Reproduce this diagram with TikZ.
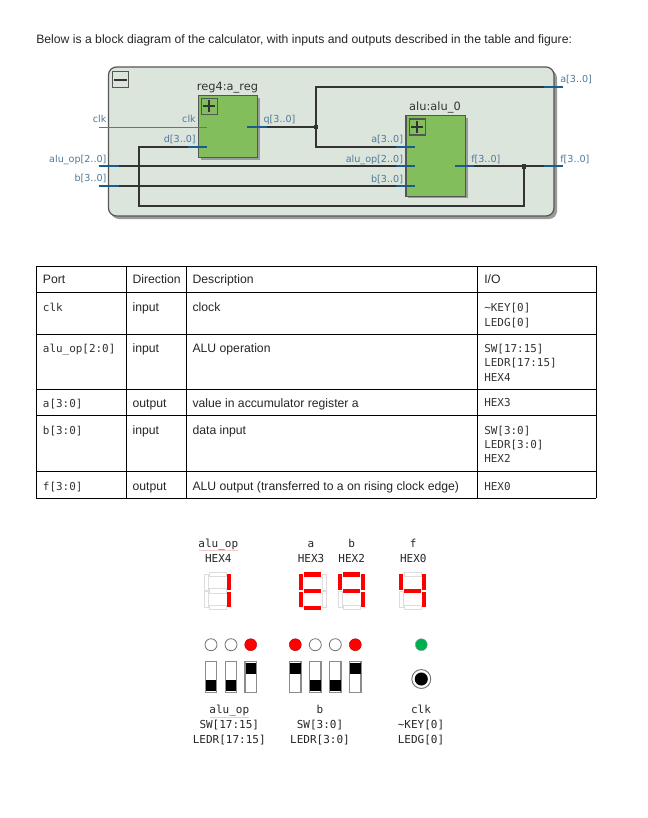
\documentclass[tikz,border=0pt]{standalone}
\usepackage{fontspec}
\setmainfont{Liberation Sans}
\newfontfamily\monof{DejaVu Sans Mono}
\newfontfamily\diagf{DejaVu Sans}
\definecolor{panelfill}{HTML}{DCE5DC}
\definecolor{edgecol}{HTML}{555555}
\definecolor{shadowcol}{HTML}{9A9A9A}
\definecolor{blockfill}{HTML}{82BE5C}
\definecolor{wirecol}{HTML}{333333}
\definecolor{pincol}{HTML}{1C5C8C}
\definecolor{lblcol}{HTML}{4F7A9B}
\definecolor{segoff}{HTML}{DDDDDD}
\definecolor{ledgreen}{HTML}{00B050}
\definecolor{spell}{HTML}{F3CACA}
\tikzset{
  x=0.75pt,y=-0.75pt,
  txt/.style={inner sep=0pt,anchor=base west,font=\fontsize{9.15}{11}\selectfont,text=black!85},
  mono/.style={inner sep=0pt,anchor=base west,font=\monof\fontsize{8.2}{10}\selectfont,text=black!80},
  monoc/.style={inner sep=0pt,anchor=base,font=\monof\fontsize{8.25}{10}\selectfont,text=black!85},
  pinl/.style={inner sep=0pt,anchor=base east,font=\diagf\fontsize{7.2}{9}\selectfont,text=lblcol},
  pinr/.style={inner sep=0pt,anchor=base west,font=\diagf\fontsize{7.2}{9}\selectfont,text=lblcol},
  blocklbl/.style={inner sep=0pt,anchor=base,font=\diagf\fontsize{8.55}{10}\selectfont,text=black!80},
  blockbox/.style={draw=edgecol,line width=1pt,fill=blockfill,inner sep=0pt,anchor=north west},
  tbox/.style={draw=edgecol,line width=0.9pt,inner sep=0pt,anchor=north west,minimum width=12pt,minimum height=12pt},
  wire/.style={draw=wirecol,line width=1.4pt},
  pinwire/.style={draw=pincol,line width=1.5pt},
  clkwire/.style={draw=lblcol,line width=0.7pt},
  junct/.style={fill=wirecol,inner sep=0pt,minimum size=3.6pt,rectangle},
  tline/.style={draw=black,line width=0.75pt},
  segon/.style={fill=red,draw=none},
  segout/.style={fill=white,draw=segoff,line width=0.7pt},
  ledoff/.style={circle,draw=black!55,fill=white,line width=0.6pt,minimum size=9pt,inner sep=0pt},
  ledred/.style={circle,fill=red,draw=red!70!black,line width=0.3pt,minimum size=9pt,inner sep=0pt},
  ledgrn/.style={circle,fill=ledgreen,draw=black!40,line width=0.3pt,minimum size=9pt,inner sep=0pt},
  swbody/.style={draw=black!45,line width=1pt,fill=white},
}
% digit: #1 left x, then style for segments top, upper-left, upper-right, mid, lower-left, lower-right, bottom
\newcommand{\sevenseg}[8]{%
  \path[#2] (#1+5,572) rectangle (#1+22,576.5);
  \path[#3] (#1,574.3) rectangle (#1+4,590);
  \path[#4] (#1+22.7,574.3) rectangle (#1+26.7,590);
  \path[#5] (#1+5,588.7) rectangle (#1+22,593);
  \path[#6] (#1,591.7) rectangle (#1+4,607.3);
  \path[#7] (#1+22.7,591.7) rectangle (#1+26.7,607.3);
  \path[#8] (#1+5,605.5) rectangle (#1+22,609.7);
}
\newcommand{\swup}[1]{%
  \path[swbody] (#1-5.8,661.3) rectangle (#1+5.8,692.7);
  \fill[black] (#1-5.2,663) rectangle (#1+5.2,674);
}
\newcommand{\swdown}[1]{%
  \path[swbody] (#1-5.8,661.3) rectangle (#1+5.8,692.7);
  \fill[black] (#1-5.2,680) rectangle (#1+5.2,690.8);
}
\newcommand{\plusbox}[3]{%
  \node[tbox] (#1) at (#2,#3) {};
  \draw[wirecol,line width=1.4pt] (#1.north) ++(0,-2pt) -- ([yshift=2pt]#1.south);
  \draw[wirecol,line width=1.4pt] ([xshift=2pt]#1.west) -- ([xshift=-2pt]#1.east);
}
\begin{document}
\begin{tikzpicture}
\useasboundingbox (0,0) rectangle (647,818);
\fill[white] (0,0) rectangle (647,818);

\node[txt] (title) at (36,43) {Below is a block diagram of the calculator, with inputs and outputs described in the table and figure:};

% ---------- panel
\fill[shadowcol,rounded corners=6pt] (111,70) rectangle (557,219);
\path[draw=edgecol,line width=0.9pt,fill=panelfill,rounded corners=6pt] (108.5,67) rectangle (554,216);
\node[tbox,fill=panelfill] (collapse) at (112,71) {};
\draw[wirecol,line width=1.5pt] ([xshift=1.5pt]collapse.west) -- ([xshift=-1.5pt]collapse.east);

% ---------- blocks
\fill[shadowcol] (200.5,97.5) rectangle (260,160);
\fill[shadowcol] (407.8,117.5) rectangle (467.5,198.2);
\node[blockbox,minimum width=44.25pt,minimum height=46.5pt] (reg) at (198,95) {};
\node[blockbox,minimum width=44.6pt,minimum height=60.5pt] (alu) at (405.3,115) {};
\plusbox{regplus}{200.7}{97.7}
\plusbox{aluplus}{408.7}{118.3}
\node[blocklbl] (regname) at (227.5,90.5) {reg4:a\_reg};
\node[blocklbl] (aluname) at (435,110) {alu:alu\_0};

% ---------- pins
\coordinate (clkin) at (98.7,127);
\coordinate (clkreg) at (207,127);
\coordinate (dreg) at (207,146.7);
\coordinate (dturn) at (139,146.7);
\coordinate (dlow) at (139,205.7);
\coordinate (fturnlow) at (524,205.7);
\coordinate (qreg) at (247.3,127);
\coordinate (qjunc) at (316,127);
\coordinate (atop) at (316,87.3);
\coordinate (aout) at (563,87.3);
\coordinate (aalu) at (415,146.7);
\coordinate (aturn) at (316,146.7);
\coordinate (opin) at (98.7,166.3);
\coordinate (opalu) at (415,166.3);
\coordinate (bin) at (98.7,186.3);
\coordinate (balu) at (415,186.3);
\coordinate (falu) at (455,166.3);
\coordinate (fjunc) at (524,166.3);
\coordinate (fout) at (563,166.3);

% ---------- wires
\draw[clkwire] (clkin) -- (clkreg);
\draw[wire] (dreg) -- (dturn) -- (dlow) -- (fturnlow) -- (fjunc);
\draw[wire] (qreg) -- (qjunc);
\draw[wire] (aout) -- (atop) -- (aturn) -- (aalu);
\draw[wire] (opin) -- (opalu);
\draw[wire] (bin) -- (balu);
\draw[wire] (falu) -- (fout);
\node[junct] (j1) at (qjunc) {};
\node[junct] (j2) at (fjunc) {};
\draw[pinwire] (dreg) -- ++(-19.3,0);
\draw[pinwire] (qreg) -- ++(20,0);
\draw[pinwire] (aout) -- ++(-19,0);
\draw[pinwire] (aalu) -- ++(-19,0);
\draw[pinwire] (opin) -- ++(20,0);
\draw[pinwire] (opalu) -- ++(-19,0);
\draw[pinwire] (bin) -- ++(20,0);
\draw[pinwire] (balu) -- ++(-19,0);
\draw[pinwire] (falu) -- ++(19,0);
\draw[pinwire] (fout) -- ++(-19,0);

% ---------- pin labels
\node[pinl] (lclk) at (106.7,122.3) {clk};
\node[pinl] (lop) at (106.7,162) {alu\_op[2..0]};
\node[pinl] (lb) at (106.7,181.7) {b[3..0]};
\node[pinl] (lrclk) at (196,122.3) {clk};
\node[pinl] (lrd) at (196,142.7) {d[3..0]};
\node[pinr] (lrq) at (263.3,122.3) {q[3..0]};
\node[pinl] (laa) at (403.3,142.7) {a[3..0]};
\node[pinl] (laop) at (403.3,162) {alu\_op[2..0]};
\node[pinl] (lab) at (403.3,182.3) {b[3..0]};
\node[pinr] (laf) at (471,162) {f[3..0]};
\node[pinr] (loa) at (560,82.7) {a[3..0]};
\node[pinr] (lof) at (560,162) {f[3..0]};

% ---------- table
\foreach \yy in {266.3,292.3,334.3,389,415.7,471.3,498.3}
  \draw[tline] (36.3,\yy) -- (596,\yy);
\foreach \xx in {36.3,126.7,186.3,477.7,596}
  \draw[tline] (\xx,266.3) -- (\xx,498.3);

\node[txt] (h1) at (42.7,283.5) {Port};
\node[txt] (h2) at (132.3,283.5) {Direction};
\node[txt] (h3) at (192.3,283.5) {Description};
\node[txt] (h4) at (484,283.5) {I/O};

\node[mono] (p1) at (42.7,311) {clk};
\node[txt] (d1) at (132.3,311) {input};
\node[txt] (e1) at (192.3,311) {clock};
\node[mono] (i1a) at (484,311.5) {\textasciitilde KEY[0]};
\node[mono] (i1b) at (484,326) {LEDG[0]};

\node[mono] (p2) at (42.7,352) {alu\_op[2:0]};
\node[txt] (d2) at (132.3,352) {input};
\node[txt] (e2) at (192.3,352) {ALU operation};
\node[mono] (i2a) at (484,352) {SW[17:15]};
\node[mono] (i2b) at (484,366.5) {LEDR[17:15]};
\node[mono] (i2c) at (484,381) {HEX4};

\node[mono] (p3) at (42.7,407) {a[3:0]};
\node[txt] (d3) at (132.3,407) {output};
\node[txt] (e3) at (192.3,407) {value in accumulator register a};
\node[mono] (i3) at (484,406.5) {HEX3};

\node[mono] (p4) at (42.7,434) {b[3:0]};
\node[txt] (d4) at (132.3,434) {input};
\node[txt] (e4) at (192.3,434) {data input};
\node[mono] (i4a) at (484,434) {SW[3:0]};
\node[mono] (i4b) at (484,448) {LEDR[3:0]};
\node[mono] (i4c) at (484,462.5) {HEX2};

\node[mono] (p5) at (42.7,490.5) {f[3:0]};
\node[txt] (d5) at (132.3,490.5) {output};
\node[txt] (e5) at (192.3,490.5) {ALU output (transferred to a on rising clock edge)};
\node[mono] (i5) at (484,490) {HEX0};

% ---------- top captions
\node[monoc] (c1a) at (218.3,547) {alu\_op};
\node[monoc] (c1b) at (218.3,562) {HEX4};
\node[monoc] (c2a) at (311,547) {a};
\node[monoc] (c2b) at (311,562) {HEX3};
\node[monoc] (c3a) at (351.7,547) {b};
\node[monoc] (c3b) at (351.7,562) {HEX2};
\node[monoc] (c4a) at (413.3,547) {f};
\node[monoc] (c4b) at (413.3,562) {HEX0};
\draw[spell,line width=0.5pt] (198.5,550.5) -- (238,550.5);

% ---------- seven segment displays
\sevenseg{204}{segout}{segout}{segon}{segout}{segout}{segon}{segout}
\sevenseg{299.3}{segon}{segon}{segout}{segon}{segon}{segout}{segon}
\sevenseg{338.3}{segon}{segon}{segon}{segon}{segout}{segon}{segout}
\sevenseg{399.3}{segout}{segon}{segon}{segon}{segout}{segon}{segout}

% ---------- LEDs
\node[ledoff] (led17) at (211,644.7) {};
\node[ledoff] (led16) at (231,644.7) {};
\node[ledred] (led15) at (250.7,644.7) {};
\node[ledred] (led3) at (295.3,644.7) {};
\node[ledoff] (led2) at (315.3,644.7) {};
\node[ledoff] (led1) at (335.3,644.7) {};
\node[ledred] (led0) at (355.3,644.7) {};
\node[ledgrn] (ledg) at (421.3,644.7) {};

% ---------- switches
\swdown{211}
\swdown{231}
\swup{250.7}
\swup{295.3}
\swdown{315.3}
\swdown{335.3}
\swup{355.3}

% ---------- push button
\node[circle,draw=black!55,fill=white,line width=0.7pt,minimum size=14.2pt,inner sep=0pt] (keyring) at (421.3,679) {};
\node[circle,fill=black,minimum size=9.8pt,inner sep=0pt] (keycap) at (421.3,679) {};

% ---------- bottom captions
\node[monoc] (s1a) at (229.3,713.5) {alu\_op};
\node[monoc] (s1b) at (229.3,728) {SW[17:15]};
\node[monoc] (s1c) at (229.3,743) {LEDR[17:15]};
\node[monoc] (s2a) at (320,713.5) {b};
\node[monoc] (s2b) at (320,728) {SW[3:0]};
\node[monoc] (s2c) at (320,743) {LEDR[3:0]};
\node[monoc] (s3a) at (421,713.5) {clk};
\node[monoc] (s3b) at (421,728) {\textasciitilde KEY[0]};
\node[monoc] (s3c) at (421,743) {LEDG[0]};
\draw[spell,line width=0.5pt] (209.5,717) -- (249,717);
\end{tikzpicture}
\end{document}
